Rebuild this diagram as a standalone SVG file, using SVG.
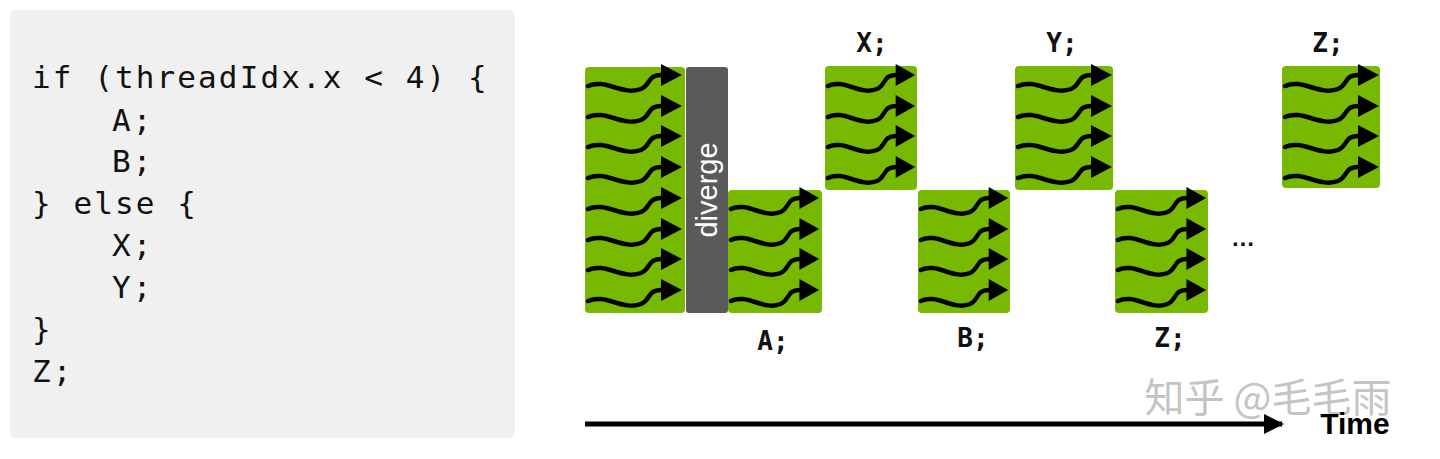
<svg xmlns="http://www.w3.org/2000/svg" xmlns:xlink="http://www.w3.org/1999/xlink" width="1440" height="459" viewBox="0 0 1440 459">
<style>
.code{font-family:"DejaVu Sans Mono",monospace;font-size:31px;letter-spacing:2.1px;fill:#111}
.lbl{font-family:"DejaVu Sans Mono",monospace;font-weight:bold;font-size:26px;fill:#111}
.blk{fill:#76b900}
.w{fill:none;stroke:#000;stroke-width:4.5;stroke-linecap:round}
</style>
<defs>
<g id="wv"><path class="w" d="M3,2 C20,-6 38,12 56,5 C66,1 62,-9 76,-9 L80,-9"/><polygon points="76,-20 97,-9 76,2"/></g>
<marker id="ah" viewBox="0 0 10 10" refX="9" refY="5" markerWidth="4" markerHeight="4" orient="auto"><path d="M0,0 L10,5 L0,10 z"/></marker>
</defs>
<rect x="10" y="10" width="505" height="428" rx="6" fill="#f0f0f0"/>
<g id="code">
<text class="code" x="32" y="88">if (threadIdx.x &lt; 4) {</text>
<text class="code" x="112" y="131">A;</text>
<text class="code" x="112" y="172">B;</text>
<text class="code" x="32" y="214">} else {</text>
<text class="code" x="112" y="256">X;</text>
<text class="code" x="112" y="298">Y;</text>
<text class="code" x="32" y="340">}</text>
<text class="code" x="32" y="382">Z;</text>
</g>
<g id="all"><rect class="blk" x="585" y="67" width="100" height="246" rx="4"/>
<use xlink:href="#wv" transform="translate(585,84)"/><use xlink:href="#wv" transform="translate(585,115)"/><use xlink:href="#wv" transform="translate(585,145)"/><use xlink:href="#wv" transform="translate(585,176)"/><use xlink:href="#wv" transform="translate(585,207)"/><use xlink:href="#wv" transform="translate(585,238)"/><use xlink:href="#wv" transform="translate(585,268)"/><use xlink:href="#wv" transform="translate(585,299)"/></g>
<g id="diverge"><rect x="686" y="67" width="42" height="246" rx="3" fill="#5a5a5a"/>
<text x="717" y="190" transform="rotate(-90 717 190)" text-anchor="middle" font-family="Liberation Sans,sans-serif" font-size="29" fill="#fff">diverge</text></g>
<g id="A"><rect class="blk" x="728" y="190" width="94" height="123" rx="4"/>
<g transform="translate(728,0) scale(0.94,1)"><use xlink:href="#wv" y="207"/><use xlink:href="#wv" y="238"/><use xlink:href="#wv" y="268"/><use xlink:href="#wv" y="299"/></g>
<text class="lbl" x="773" y="350" text-anchor="middle">A;</text></g>
<g id="X"><rect class="blk" x="825" y="66" width="92" height="124" rx="4"/>
<g transform="translate(825,0) scale(0.93,1)"><use xlink:href="#wv" y="84"/><use xlink:href="#wv" y="115"/><use xlink:href="#wv" y="145"/><use xlink:href="#wv" y="176"/></g>
<text class="lbl" x="872" y="52" text-anchor="middle">X;</text></g>
<g id="B"><rect class="blk" x="918" y="190" width="92" height="123" rx="4"/>
<g transform="translate(918,0) scale(0.93,1)"><use xlink:href="#wv" y="207"/><use xlink:href="#wv" y="238"/><use xlink:href="#wv" y="268"/><use xlink:href="#wv" y="299"/></g>
<text class="lbl" x="973" y="347" text-anchor="middle">B;</text></g>
<g id="Y"><rect class="blk" x="1015" y="66" width="98" height="124" rx="4"/>
<g transform="translate(1015,0)"><use xlink:href="#wv" y="84"/><use xlink:href="#wv" y="115"/><use xlink:href="#wv" y="145"/><use xlink:href="#wv" y="176"/></g>
<text class="lbl" x="1062" y="52" text-anchor="middle">Y;</text></g>
<g id="Z1"><rect class="blk" x="1115" y="190" width="93" height="123" rx="4"/>
<g transform="translate(1115,0) scale(0.94,1)"><use xlink:href="#wv" y="207"/><use xlink:href="#wv" y="238"/><use xlink:href="#wv" y="268"/><use xlink:href="#wv" y="299"/></g>
<text class="lbl" x="1170" y="347" text-anchor="middle">Z;</text></g>
<g id="Z2"><rect class="blk" x="1282" y="66" width="98" height="122" rx="4"/>
<g transform="translate(1282,0)"><use xlink:href="#wv" y="84"/><use xlink:href="#wv" y="115"/><use xlink:href="#wv" y="145"/><use xlink:href="#wv" y="176"/></g>
<text class="lbl" x="1328" y="52" text-anchor="middle">Z;</text></g>
<text x="1243" y="246" text-anchor="middle" font-family="Liberation Sans,sans-serif" font-weight="bold" font-size="24" fill="#111">…</text>
<text x="1268" y="412" text-anchor="middle" font-family="Noto Sans CJK SC,sans-serif" font-size="40" fill="#c4c4c4">知乎 @毛毛雨</text>
<g id="connectors"><line x1="585" y1="424" x2="1282" y2="424" stroke="#000" stroke-width="5" marker-end="url(#ah)"/></g>
<text x="1355" y="434" text-anchor="middle" font-family="Liberation Sans,sans-serif" font-weight="bold" font-size="30" fill="#000">Time</text>
</svg>
